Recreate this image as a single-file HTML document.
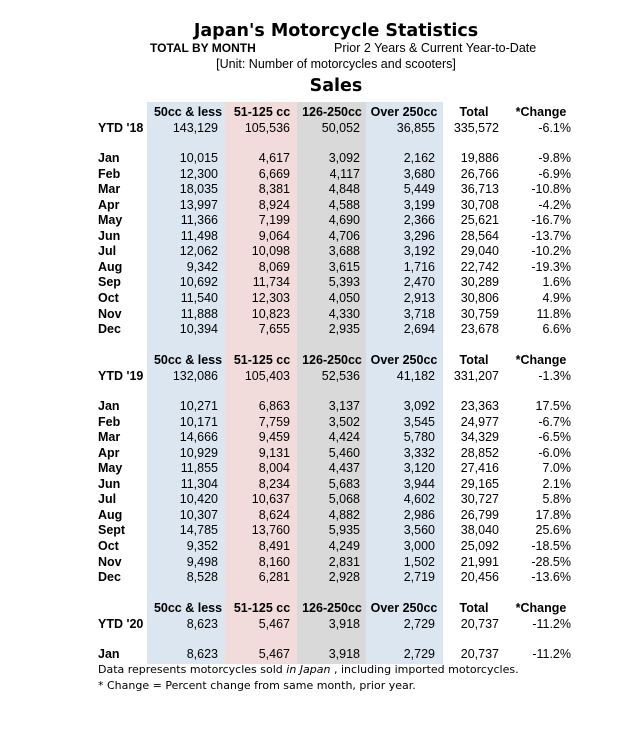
<!DOCTYPE html>
<html><head><meta charset="utf-8"><style>
body{margin:0;background:#fff;width:644px;height:729px;position:relative;overflow:hidden;font-family:"Liberation Sans",Arial,sans-serif;color:#000}
.a{position:absolute;white-space:nowrap;font-size:12.5px;line-height:14px}
.band{position:absolute;top:102px;height:562px}
.t{position:absolute;white-space:nowrap;font-family:"DejaVu Sans",Verdana,sans-serif;font-weight:bold}
</style></head><body>
<div class="band" style="left:147px;width:78px;background:#dce6f1"></div>
<div class="band" style="left:225px;width:72px;background:#f2dcdb"></div>
<div class="band" style="left:297px;width:69px;background:#d9d9d9"></div>
<div class="band" style="left:366px;width:77px;background:#dce6f1"></div>
<div class="t" style="left:0;width:672px;text-align:center;top:21px;font-size:17.5px">Japan's Motorcycle Statistics</div>
<div class="a" style="left:150px;top:41px;font-weight:bold;font-size:12px">TOTAL BY MONTH</div>
<div class="a" style="left:334px;top:41px;font-size:12.5px">Prior 2 Years &amp; Current Year-to-Date</div>
<div class="a" style="left:0;width:672px;text-align:center;top:57px;font-size:12.5px">[Unit: Number of motorcycles and scooters]</div>
<div class="t" style="left:0;width:672px;text-align:center;top:76px;font-size:17.5px">Sales</div>
<div class="a" style="left:98px;top:663px;font-family:'DejaVu Sans',Verdana,sans-serif;font-size:11px">Data represents motorcycles sold <i>in Japan</i> , including imported motorcycles.</div>
<div class="a" style="left:98px;top:679px;font-family:'DejaVu Sans',Verdana,sans-serif;font-size:11px">* Change = Percent change from same month, prior year.</div>
<script>
const headers=["50cc & less","51-125 cc","126-250cc","Over 250cc","Total","*Change"];
const ytdLabels=["YTD '18","YTD '19","YTD '20"];
const ytd=[["143,129","105,536","50,052","36,855","335,572","-6.1%"],["132,086","105,403","52,536","41,182","331,207","-1.3%"],["8,623","5,467","3,918","2,729","20,737","-11.2%"]];
const months18=["Jan","Feb","Mar","Apr","May","Jun","Jul","Aug","Sep","Oct","Nov","Dec"];
const months19=["Jan","Feb","Mar","Apr","May","Jun","Jul","Aug","Sept","Oct","Nov","Dec"];
const months20=["Jan"];
const rows18=[["10,015","4,617","3,092","2,162","19,886","-9.8%"],["12,300","6,669","4,117","3,680","26,766","-6.9%"],["18,035","8,381","4,848","5,449","36,713","-10.8%"],["13,997","8,924","4,588","3,199","30,708","-4.2%"],["11,366","7,199","4,690","2,366","25,621","-16.7%"],["11,498","9,064","4,706","3,296","28,564","-13.7%"],["12,062","10,098","3,688","3,192","29,040","-10.2%"],["9,342","8,069","3,615","1,716","22,742","-19.3%"],["10,692","11,734","5,393","2,470","30,289","1.6%"],["11,540","12,303","4,050","2,913","30,806","4.9%"],["11,888","10,823","4,330","3,718","30,759","11.8%"],["10,394","7,655","2,935","2,694","23,678","6.6%"]];
const rows19=[["10,271","6,863","3,137","3,092","23,363","17.5%"],["10,171","7,759","3,502","3,545","24,977","-6.7%"],["14,666","9,459","4,424","5,780","34,329","-6.5%"],["10,929","9,131","5,460","3,332","28,852","-6.0%"],["11,855","8,004","4,437","3,120","27,416","7.0%"],["11,304","8,234","5,683","3,944","29,165","2.1%"],["10,420","10,637","5,068","4,602","30,727","5.8%"],["10,307","8,624","4,882","2,986","26,799","17.8%"],["14,785","13,760","5,935","3,560","38,040","25.6%"],["9,352","8,491","4,249","3,000","25,092","-18.5%"],["9,498","8,160","2,831","1,502","21,991","-28.5%"],["8,528","6,281","2,928","2,719","20,456","-13.6%"]];
const rows20=[["8,623","5,467","3,918","2,729","20,737","-11.2%"]];
const blocks=[[months18,rows18],[months19,rows19],[months20,rows20]];
const rights=[218,290,360,435,499,571];
const hCenters=[188,262,332,404,474,541];
const blockTops=[112,360,608];
const rowH=15.55;
function txt(x,y,s,name,opt){
  const d=document.createElement('div');
  d.className='a';
  
  
  d.textContent=s;
  d.style.top=(y-7)+'px';
  if(opt==='r'){d.style.right=(644-x)+'px';}
  else if(opt==='c'){d.style.left=(x-60)+'px';d.style.width='120px';d.style.textAlign='center';}
  else d.style.left=x+'px';
  document.body.appendChild(d);return d;
}
blocks.forEach((b,bi)=>{
  const top=blockTops[bi];
  headers.forEach((h,i)=>{const e=txt(hCenters[i],top,h,'column-header','c');e.style.fontWeight='bold';});
  const l=txt(98,top+16,ytdLabels[bi],'ytd-label');l.style.fontWeight='bold';
  ytd[bi].forEach((v,i)=>txt(rights[i],top+16,v,'ytd-value','r'));
  const [months,rows]=b;
  months.forEach((m,r)=>{
    const y=top+46+r*rowH;
    const ml=txt(98,y,m,'month-label');ml.style.fontWeight='bold';
    rows[r].forEach((v,i)=>txt(rights[i],y,v,'cell-value','r'));
  });
});
</script>
</body></html>
